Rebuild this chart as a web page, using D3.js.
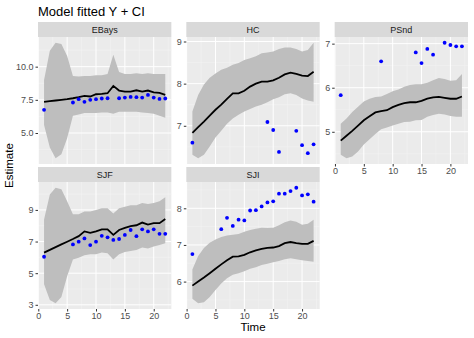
<!DOCTYPE html>
<html>
<head>
<meta charset="utf-8">
<script src="https://cdn.jsdelivr.net/npm/d3@7"></script>
<style>
  body { margin: 0; background: #fff; }
  text { font-family: "Liberation Sans", Arial, sans-serif; }
</style>
</head>
<body>
<div id="chart"></div>
<script>
"use strict"

/* Data: fitted mean, 95% band and observed values per site */
let time = [1, 2, 3, 4, 5, 6, 7, 8, 9, 10, 11, 12, 13, 14, 15, 16, 17, 18, 19, 20, 21, 22];

let fitEBays = [7.35, 7.4, 7.45, 7.5, 7.55, 7.62, 7.7, 7.8, 7.75, 7.92, 7.95, 8.0, 8.55, 8.2, 8.12, 8.12, 8.22, 8.12, 8.2, 8.07, 8.02, 7.87];
let lowEBays = [5.6, 3.9, 3.1, 3.4, 4.6, 6.3, 6.4, 6.5, 6.5, 6.5, 6.55, 6.55, 6.45, 6.6, 6.6, 6.6, 6.6, 6.55, 6.5, 6.45, 6.3, 6.15];
let highEBays = [9.0, 11.2, 11.8, 11.7, 10.8, 9.3, 9.25, 9.3, 9.3, 9.35, 9.35, 9.45, 10.9, 9.6, 9.45, 9.45, 9.5, 9.45, 9.5, 9.45, 9.45, 9.45];
let obsTimeEBays = [1, 6, 7, 8, 9, 10, 11, 12, 14, 15, 16, 17, 18, 19, 20, 21, 22];
let obsEBays = [6.75, 7.3, 7.55, 7.35, 7.5, 7.55, 7.6, 7.62, 7.62, 7.67, 7.72, 7.7, 7.67, 7.87, 7.67, 7.57, 7.6];

let fitHC = [6.83, 6.97, 7.1, 7.24, 7.38, 7.5, 7.64, 7.77, 7.77, 7.83, 7.93, 8.0, 8.05, 8.05, 8.08, 8.14, 8.22, 8.26, 8.23, 8.19, 8.18, 8.28];
let lowHC = [6.31, 6.23, 6.31, 6.51, 6.72, 6.88, 7.05, 7.17, 7.26, 7.34, 7.4, 7.46, 7.5, 7.56, 7.63, 7.68, 7.75, 7.77, 7.73, 7.65, 7.6, 7.57];
let highHC = [7.34, 7.73, 7.98, 8.14, 8.24, 8.33, 8.38, 8.45, 8.49, 8.56, 8.6, 8.65, 8.72, 8.74, 8.76, 8.82, 8.86, 8.86, 8.82, 8.76, 8.8, 8.97];
let obsTimeHC = [1, 14, 15, 16, 19, 20, 21, 22];
let obsHC = [6.6, 7.09, 6.9, 6.38, 6.88, 6.54, 6.35, 6.56];

let fitPSnd = [4.8, 4.91, 5.02, 5.14, 5.26, 5.35, 5.44, 5.47, 5.49, 5.56, 5.61, 5.65, 5.67, 5.67, 5.7, 5.75, 5.78, 5.79, 5.77, 5.75, 5.75, 5.8];
let lowPSnd = [4.48, 4.4, 4.44, 4.55, 4.71, 4.83, 4.95, 5.06, 5.1, 5.14, 5.18, 5.22, 5.23, 5.26, 5.27, 5.34, 5.38, 5.41, 5.39, 5.36, 5.34, 5.34];
let highPSnd = [5.18, 5.3, 5.45, 5.57, 5.69, 5.75, 5.79, 5.8, 5.86, 5.92, 5.96, 6.02, 6.06, 6.08, 6.08, 6.11, 6.17, 6.22, 6.2, 6.16, 6.17, 6.31];
let obsTimePSnd = [1, 8, 14, 15, 16, 17, 19, 20, 21, 22];
let obsPSnd = [5.83, 6.6, 6.8, 6.56, 6.88, 6.75, 7.02, 6.97, 6.94, 6.94];

let fitSJF = [6.3, 6.47, 6.65, 6.82, 6.99, 7.16, 7.34, 7.64, 7.55, 7.64, 7.77, 7.77, 7.42, 7.73, 7.86, 7.98, 8.03, 8.2, 8.07, 8.16, 8.16, 8.42];
let lowSJF = [4.3, 3.3, 3.1, 3.5, 4.8, 5.87, 5.98, 6.13, 6.2, 6.2, 6.3, 6.26, 5.87, 6.2, 6.34, 6.41, 6.47, 6.62, 6.56, 6.69, 6.78, 6.9];
let highSJF = [8.4, 9.97, 10.4, 10.3, 9.54, 8.72, 8.72, 8.9, 8.9, 9.0, 9.1, 9.1, 8.78, 9.1, 9.2, 9.3, 9.3, 9.43, 9.37, 9.43, 9.54, 9.8];
let obsTimeSJF = [1, 6, 7, 8, 9, 10, 11, 12, 13, 14, 15, 16, 17, 18, 19, 20, 21, 22];
let obsSJF = [6.04, 6.82, 6.99, 7.2, 6.78, 6.99, 7.36, 7.27, 7.1, 7.16, 7.42, 7.73, 7.34, 7.77, 7.64, 7.77, 7.49, 7.49];

let fitSJI = [5.89, 6.0, 6.11, 6.23, 6.35, 6.47, 6.58, 6.68, 6.69, 6.73, 6.8, 6.85, 6.89, 6.92, 6.93, 6.97, 7.05, 7.08, 7.05, 7.03, 7.03, 7.11];
let lowSJI = [5.53, 5.41, 5.44, 5.58, 5.77, 5.95, 6.09, 6.19, 6.23, 6.28, 6.35, 6.39, 6.45, 6.49, 6.53, 6.56, 6.61, 6.64, 6.61, 6.58, 6.56, 6.54];
let highSJI = [6.33, 6.7, 6.92, 7.06, 7.15, 7.22, 7.26, 7.28, 7.3, 7.36, 7.41, 7.44, 7.47, 7.46, 7.47, 7.54, 7.62, 7.67, 7.63, 7.55, 7.58, 7.69];
let obsTimeSJI = [1, 6, 7, 8, 9, 10, 11, 12, 13, 14, 15, 16, 17, 18, 19, 20, 21, 22];
let obsSJI = [6.75, 7.43, 7.74, 7.52, 7.69, 7.67, 7.94, 7.95, 8.05, 8.16, 8.19, 8.4, 8.4, 8.47, 8.56, 8.35, 8.38, 8.18];

/* Tick values */
let xTicks = [0, 5, 10, 15, 20];
let yTicksEBays = [5, 7.5, 10];
let yTicksHC = [7, 8, 9];
let yTicksPSnd = [5, 6, 7];
let yTicksSJF = [3, 5, 7, 9];
let yTicksSJI = [6, 7, 8];

let sites = [
  {name: "EBays", fit: fitEBays, low: lowEBays, high: highEBays, obsTime: obsTimeEBays, obs: obsEBays, ticks: yTicksEBays, fmt: d3.format(".1f")},
  {name: "HC", fit: fitHC, low: lowHC, high: highHC, obsTime: obsTimeHC, obs: obsHC, ticks: yTicksHC, fmt: d3.format("d")},
  {name: "PSnd", fit: fitPSnd, low: lowPSnd, high: highPSnd, obsTime: obsTimePSnd, obs: obsPSnd, ticks: yTicksPSnd, fmt: d3.format("d")},
  {name: "SJF", fit: fitSJF, low: lowSJF, high: highSJF, obsTime: obsTimeSJF, obs: obsSJF, ticks: yTicksSJF, fmt: d3.format("d")},
  {name: "SJI", fit: fitSJI, low: lowSJI, high: highSJI, obsTime: obsTimeSJI, obs: obsSJI, ticks: yTicksSJI, fmt: d3.format("d")}
];

/* Layout */
let svgWidth = 474;
let svgHeight = 338;
let plotLeft = 38;
let plotRight = 468;
let colGap = 15;
let panelW = (plotRight - plotLeft - 2 * colGap) / 3;
let stripH = 15;
let panelH = 127;
let rowTop = [22, 167];

let svg = d3.select("#chart")
  .append("svg")
  .attr("width", svgWidth)
  .attr("height", svgHeight);

// ggplot-style padded domain (5% each side)
function expand(lo, hi) {
  let pad = (hi - lo) * 0.05;
  return [lo - pad, hi + pad];
}

let xScale = d3.scaleLinear()
  .domain(expand(d3.min(time), d3.max(time)))
  .range([0, panelW]);

sites.forEach(function (s, i) {
  let col = i % 3;
  let row = Math.floor(i / 3);
  let px = plotLeft + col * (panelW + colGap);
  let py = rowTop[row] + stripH;

  let yMin = d3.min([d3.min(s.low), d3.min(s.obs)]);
  let yMax = d3.max([d3.max(s.high), d3.max(s.obs)]);
  let yScale = d3.scaleLinear()
    .domain(expand(yMin, yMax))
    .range([panelH, 0]);

  // strip
  svg.append("rect")
    .attr("x", px).attr("y", rowTop[row])
    .attr("width", panelW).attr("height", stripH)
    .attr("fill", "#d9d9d9");
  svg.append("text")
    .attr("x", px + panelW / 2)
    .attr("y", rowTop[row] + stripH / 2 + 3.2)
    .attr("text-anchor", "middle")
    .attr("font-size", "9px")
    .attr("fill", "#1a1a1a")
    .text(s.name);

  let g = svg.append("g").attr("transform", "translate(" + px + "," + py + ")");

  g.append("rect")
    .attr("width", panelW).attr("height", panelH)
    .attr("fill", "#ebebeb");

  // minor grid
  let yt = s.ticks;
  let step = yt[1] - yt[0];
  let yMinor = [yt[0] - step / 2].concat(yt.map(function (t) { return t + step / 2; }))
    .filter(function (v) { return yScale(v) >= 0 && yScale(v) <= panelH; });
  let xMinor = [-2.5, 2.5, 7.5, 12.5, 17.5, 22.5]
    .filter(function (v) { return xScale(v) >= 0 && xScale(v) <= panelW; });

  g.selectAll(".ymin").data(yMinor).enter().append("line")
    .attr("x1", 0).attr("x2", panelW)
    .attr("y1", function (d) { return yScale(d); })
    .attr("y2", function (d) { return yScale(d); })
    .attr("stroke", "#f5f5f5").attr("stroke-width", 0.5);
  g.selectAll(".xmin").data(xMinor).enter().append("line")
    .attr("y1", 0).attr("y2", panelH)
    .attr("x1", function (d) { return xScale(d); })
    .attr("x2", function (d) { return xScale(d); })
    .attr("stroke", "#f5f5f5").attr("stroke-width", 0.5);

  // major grid
  g.selectAll(".ymaj").data(yt).enter().append("line")
    .attr("x1", 0).attr("x2", panelW)
    .attr("y1", function (d) { return yScale(d); })
    .attr("y2", function (d) { return yScale(d); })
    .attr("stroke", "#fff").attr("stroke-width", 1);
  g.selectAll(".xmaj").data(xTicks).enter().append("line")
    .attr("y1", 0).attr("y2", panelH)
    .attr("x1", function (d) { return xScale(d); })
    .attr("x2", function (d) { return xScale(d); })
    .attr("stroke", "#fff").attr("stroke-width", 1);

  // confidence band
  let area = d3.area()
    .x(function (d, j) { return xScale(time[j]); })
    .y0(function (d, j) { return yScale(s.low[j]); })
    .y1(function (d, j) { return yScale(s.high[j]); });
  g.append("path")
    .datum(time)
    .attr("d", area)
    .attr("fill", "#bebebe");

  // fitted line
  let line = d3.line()
    .x(function (d, j) { return xScale(time[j]); })
    .y(function (d) { return yScale(d); });
  g.append("path")
    .datum(s.fit)
    .attr("d", line)
    .attr("fill", "none")
    .attr("stroke", "#000")
    .attr("stroke-width", 1.8);

  // observed values
  g.selectAll("circle")
    .data(s.obs)
    .enter()
    .append("circle")
    .attr("cx", function (d, j) { return xScale(s.obsTime[j]); })
    .attr("cy", function (d) { return yScale(d); })
    .attr("r", 1.9)
    .attr("fill", "#0000ff");

  // y axis
  let yAxis = g.append("g")
    .call(d3.axisLeft(yScale).tickValues(yt).tickFormat(s.fmt).tickSize(2.5).tickPadding(2));
  yAxis.select(".domain").remove();
  yAxis.selectAll("line").attr("stroke", "#333");
  yAxis.selectAll("text").attr("fill", "#4d4d4d").attr("font-size", "9px")
    .attr("font-family", "Liberation Sans, Arial, sans-serif");

  // x axis on bottom row and on the last column of the top row
  if (row === 1 || col === 2) {
    let xAxis = g.append("g")
      .attr("transform", "translate(0," + panelH + ")")
      .call(d3.axisBottom(xScale).tickValues(xTicks).tickSize(2.5).tickPadding(1.5));
    xAxis.select(".domain").remove();
    xAxis.selectAll("line").attr("stroke", "#333");
    xAxis.selectAll("text").attr("fill", "#4d4d4d").attr("font-size", "9px")
      .attr("font-family", "Liberation Sans, Arial, sans-serif");
  }
});

/* Titles */
svg.append("text")
  .attr("x", plotLeft)
  .attr("y", 16)
  .attr("font-size", "13px")
  .attr("fill", "#000")
  .text("Model fitted Y + CI");

svg.append("text")
  .attr("x", (plotLeft + plotRight) / 2)
  .attr("y", 331)
  .attr("text-anchor", "middle")
  .attr("font-size", "11.5px")
  .attr("fill", "#000")
  .text("Time");

svg.append("text")
  .attr("transform", "translate(13," + (rowTop[0] + (rowTop[1] + stripH + panelH - rowTop[0]) / 2) + ") rotate(-90)")
  .attr("text-anchor", "middle")
  .attr("font-size", "11.5px")
  .attr("fill", "#000")
  .text("Estimate");
</script>
</body>
</html>
